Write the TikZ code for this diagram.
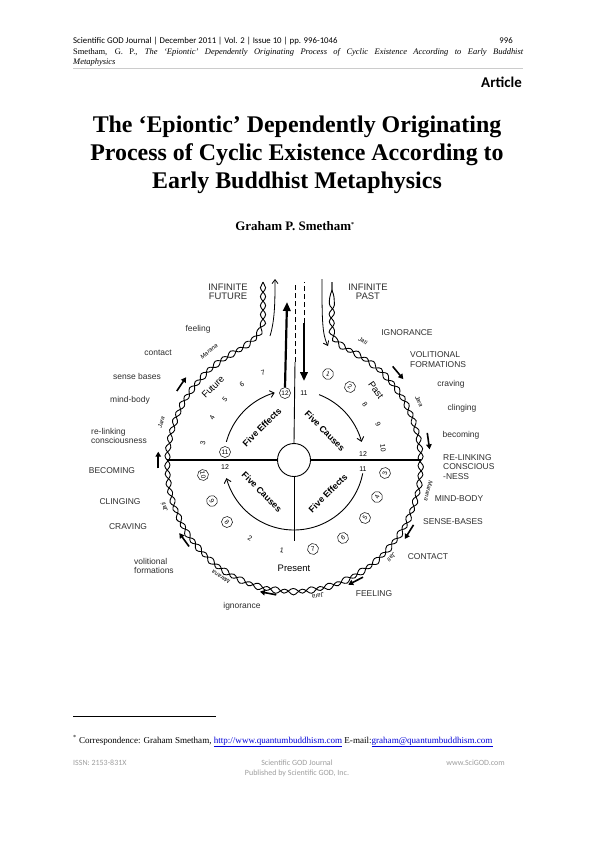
\documentclass[tikz,border=0pt]{standalone}
\usepackage{fontspec}
\setmainfont{Liberation Serif}
\newfontfamily\carlito{Carlito}
\newfontfamily\arial{Liberation Sans}
\usetikzlibrary{arrows.meta,decorations.pathmorphing}
\definecolor{labelgrey}{gray}{0.18}
\definecolor{footgrey}{gray}{0.62}
\definecolor{rulegrey}{gray}{0.8}
\definecolor{linkblue}{rgb}{0,0,0.85}
% the chain of births and deaths, as one path
\newcommand\ringpath{(263,282) -- (263,315) .. controls (263,332) and (244,343) .. (230.5,350)
  -- plot[domain=240:-60, samples=90] ({294+127*cos(\x)},{460+127*sin(\x)})
  .. controls (344,343) and (332,338) .. (332,326) -- (332,282)}
\tikzset{
  txt/.style={inner sep=0pt},
  lbl/.style={inner sep=0pt, font=\arial\fontsize{8.5}{9.6}\selectfont, text=labelgrey},
  num/.style={inner sep=0pt, font=\arial\fontsize{7}{7}\selectfont},
  cnum/.style={circle, draw, line width=0.5pt, inner sep=0pt, minimum size=11bp, font=\arial\fontsize{6.5}{6.5}\selectfont},
  five/.style={inner sep=0pt, font=\arial\bfseries\fontsize{9}{9}\selectfont},
  era/.style={inner sep=0pt, font=\arial\fontsize{9.5}{9.5}\selectfont},
  chainlbl/.style={inner sep=0pt, font=\arial\itshape\fontsize{6}{6}\selectfont},
  strand/.style={decorate, decoration={snake, amplitude=2.6bp, segment length=18bp}, line width=0.9pt},
  strandb/.style={decorate, decoration={snake, amplitude=2.6bp, segment length=18bp, mirror}, line width=0.9pt},
  chainarrow/.style={line width=1.6pt, -{Triangle[length=5bp,width=5.5bp]}},
  innerarc/.style={line width=0.9pt, -{Straight Barb[length=4bp,width=7bp]}},
  thinarrow/.style={line width=0.8pt, -{Straight Barb[length=4bp,width=6bp]}},
  bigarrow/.style={line width=2.2pt, -{Triangle[length=9bp,width=7.5bp]}},
  dashline/.style={line width=0.8pt, dash pattern=on 5bp off 3bp},
}
\begin{document}
\begin{tikzpicture}[x=1bp,y=-1bp]
  \fill[white] (0,0) rectangle (595,842);
  \useasboundingbox (0,0) rectangle (595,842);
  %header
  \node[txt, anchor=west, font=\carlito\fontsize{8.8}{10}\selectfont] (jrnl) at (73,41) {Scientific GOD Journal | December 2011 | Vol. 2 | Issue 10 | pp. 996-1046};
  \node[txt, anchor=east, font=\carlito\fontsize{8.8}{10}\selectfont] (pageno) at (513,41) {996};
  \node[txt, anchor=base west, text width=450bp, align=justify, font=\fontsize{8.5}{10}\selectfont] (runhead) at (73,54.5)
    {Smetham, G. P., \textit{The ‘Epiontic’ Dependently Originating Process of Cyclic Existence According to Early Buddhist\linebreak Metaphysics}};
  \draw[rulegrey, line width=0.5pt] (73,68) -- (523,68); %riga sotto intestazione
  \node[txt, anchor=east, font=\carlito\bfseries\fontsize{15}{15}\selectfont] (kind) at (522,82) {Article};
  %titolo e autore
  \node[txt, align=center, font=\bfseries\fontsize{24}{28}\selectfont] (title) at (297,155)
    {The ‘Epiontic’ Dependently Originating\\Process of Cyclic Existence According to\\Early Buddhist Metaphysics};
  \node[txt, font=\bfseries\fontsize{13}{13}\selectfont] (author) at (295,226) {Graham P. Smetham\textsuperscript{\fontsize{6}{6}\selectfont *}};

  %catena
  \draw[strand] \ringpath;
  \draw[strandb] \ringpath;
  \foreach \a in {214,180,144,101,63,32,-8,-40}
    \draw[chainarrow] ({294+136*cos(\a-3.5)},{460+136*sin(\a-3.5)}) -- ({294+136*cos(\a+3.5)},{460+136*sin(\a+3.5)});
  \foreach \a/\t in {-60/Jati,-25/Jara,13/Marana,45/Jati,80/Jara,122/Marana,160/Jati,196/Jara,232/Marana}
    \node[chainlbl, rotate={-(\a)-90}] (cl\t\a) at ({294+138*cos(\a)},{460+138*sin(\a)}) {\t};

  %assi e cerchio centrale
  \node[circle, draw, line width=0.9pt, minimum size=33bp, inner sep=0pt] (hub) at (294,460) {};
  \coordinate (ringW) at (167,460);
  \coordinate (ringE) at (421,460);
  \coordinate (axisS) at (294,541);
  \coordinate (axisN) at (295,362);
  \coordinate (topL) at (295,282);
  \coordinate (topR) at (304,282);
  \coordinate (downTop) at (304,323);
  \coordinate (downTip) at (304,381);
  \coordinate (upTip) at (287,302);
  \draw[line width=1.2pt] (ringW) -- (hub.west);
  \draw[line width=1.2pt] (hub.east) -- (ringE);
  \draw[line width=0.9pt] (hub.south) -- (axisS);
  \draw[line width=0.9pt] (hub.north) -- (axisN);
  \draw[dashline] (axisN) -- (topL); %tratteggio sinistro
  \draw[dashline] (downTop) -- (topR); %tratteggio destro
  \draw[bigarrow] (downTop) -- (downTip);
  \draw[thinarrow] (270,336) .. controls (275,320) and (275,300) .. (275,279);
  \draw[thinarrow] (322,279) .. controls (322,318) and (322,334) .. (328,346);

  %archi interni
  \draw[innerarc] plot[domain=195:254, samples=30] ({294+70*cos(\x)},{460+70*sin(\x)});
  \draw[innerarc] plot[domain=-69:-15, samples=30] ({294+70*cos(\x)},{460+70*sin(\x)});
  \draw[innerarc] plot[domain=11:165, samples=60] ({294+70*cos(\x)},{460+70*sin(\x)});

  %numeri, quadrante futuro
  \node[num, rotate=79] (f3) at (203,443) {3};
  \node[num, rotate=63] (f4) at (212,418) {4};
  \node[num, rotate=48] (f5) at (225,399) {5};
  \node[num, rotate=34] (f6) at (242,384) {6};
  \node[num, rotate=12] (f7) at (263,373) {7};
  \node[cnum] (f11) at (225,452) {11};
  \node[cnum] (f12) at (285,393) {12};
  \draw[bigarrow] (f12.north) -- (upTip);
  %quadrante passato
  \node[num] (p11) at (304,393) {11};
  \node[cnum, rotate=-20] (p1) at (328,374) {1};
  \node[cnum, rotate=-35] (p2) at (350,387) {2};
  \node[num, rotate=-51] (p8) at (365,404) {8};
  \node[num, rotate=-66] (p9) at (378,424) {9};
  \node[num, rotate=-82] (p10) at (383,448) {10};
  \node[num] (p12) at (363,454) {12};
  %quadrante presente, destra
  \node[num] (r11) at (363,469) {11};
  \node[cnum, rotate=82] (r3) at (385,473) {3};
  \node[cnum, rotate=66] (r4) at (377,497) {4};
  \node[cnum, rotate=51] (r5) at (365,518) {5};
  \node[cnum, rotate=32] (r6) at (343,538) {6};
  \node[cnum, rotate=12] (r7) at (313,549) {7};
  %quadrante presente, sinistra
  \node[num, rotate=-8] (l1) at (282,550) {1};
  \node[num, rotate=-29] (l2) at (250,538) {2};
  \node[cnum, rotate=-47] (l8) at (227,522) {8};
  \node[cnum, rotate=-63] (l9) at (212,501) {9};
  \node[cnum, rotate=-81] (l10) at (203,475) {10};
  \node[num] (l12) at (225,467) {12};

  %scritte interne
  \node[five, rotate=45] (effUL) at (262,427) {Five Effects};
  \node[five, rotate=-45] (causUR) at (325,431) {Five Causes};
  \node[five, rotate=-45] (causLL) at (262,492) {Five Causes};
  \node[five, rotate=45] (effLR) at (328,493) {Five Effects};
  \node[era, rotate=45] (future) at (213,387) {Future};
  \node[era, rotate=-55] (past) at (376,390) {Past};
  \node[era] (present) at (294,568) {Present};

  %scritte esterne
  \node[lbl, align=center, font=\arial\fontsize{9.5}{9.5}\selectfont] (infFut) at (228,292) {INFINITE\\FUTURE};
  \node[lbl, align=center, font=\arial\fontsize{9.5}{9.5}\selectfont] (infPast) at (368,292) {INFINITE\\PAST};
  \node[lbl] (feeling) at (198,329) {feeling};
  \node[lbl] (contact) at (158,353) {contact};
  \node[lbl] (senses) at (137,376) {sense bases};
  \node[lbl] (mindbody) at (130,400) {mind-body};
  \node[lbl, anchor=west, align=left] (relink) at (91,436) {re-linking\\consciousness};
  \node[lbl] (BECOMING) at (112,471) {BECOMING};
  \node[lbl] (CLINGING) at (120,502) {CLINGING};
  \node[lbl] (CRAVING) at (128,527) {CRAVING};
  \node[lbl, anchor=west, align=left] (volform) at (134,566) {volitional\\formations};
  \node[lbl] (ignorance) at (242,606) {ignorance};
  \node[lbl] (IGNORANCE) at (407,333) {IGNORANCE};
  \node[lbl, anchor=west, align=left] (VOLFORM) at (410,359.5) {VOLITIONAL\\FORMATIONS};
  \node[lbl] (craving) at (451,384) {craving};
  \node[lbl] (clinging) at (462,408) {clinging};
  \node[lbl] (becoming) at (461,435) {becoming};
  \node[lbl, anchor=west, align=left] (RELINK) at (443,467) {RE-LINKING\\CONSCIOUS\\-NESS};
  \node[lbl] (MINDBODY) at (459,499) {MIND-BODY};
  \node[lbl] (SENSES) at (453,522) {SENSE-BASES};
  \node[lbl] (CONTACT) at (428,557) {CONTACT};
  \node[lbl] (FEELING) at (374,594) {FEELING};

  %nota e pie di pagina
  \draw[line width=0.5pt] (73,716) -- (216,716);
  \node[txt, anchor=west, font=\fontsize{9.1}{10}\selectfont] (fnote) at (73,741)
    {\textsuperscript{*} Correspondence: Graham Smetham, \textcolor{linkblue}{\underline{http://www.quantumbuddhism.com}} E-mail:\textcolor{linkblue}{\underline{graham@quantumbuddhism.com}}};
  \node[txt, anchor=west, text=footgrey, font=\carlito\fontsize{8}{8}\selectfont] (issn) at (73,763) {ISSN: 2153-831X};
  \node[txt, align=center, text=footgrey, font=\carlito\fontsize{8}{10}\selectfont] (publ) at (297,768) {Scientific GOD Journal\\Published by Scientific GOD, Inc.};
  \node[txt, anchor=east, text=footgrey, font=\carlito\fontsize{8}{8}\selectfont] (web) at (505,763) {www.SciGOD.com};
\end{tikzpicture}
\end{document}
